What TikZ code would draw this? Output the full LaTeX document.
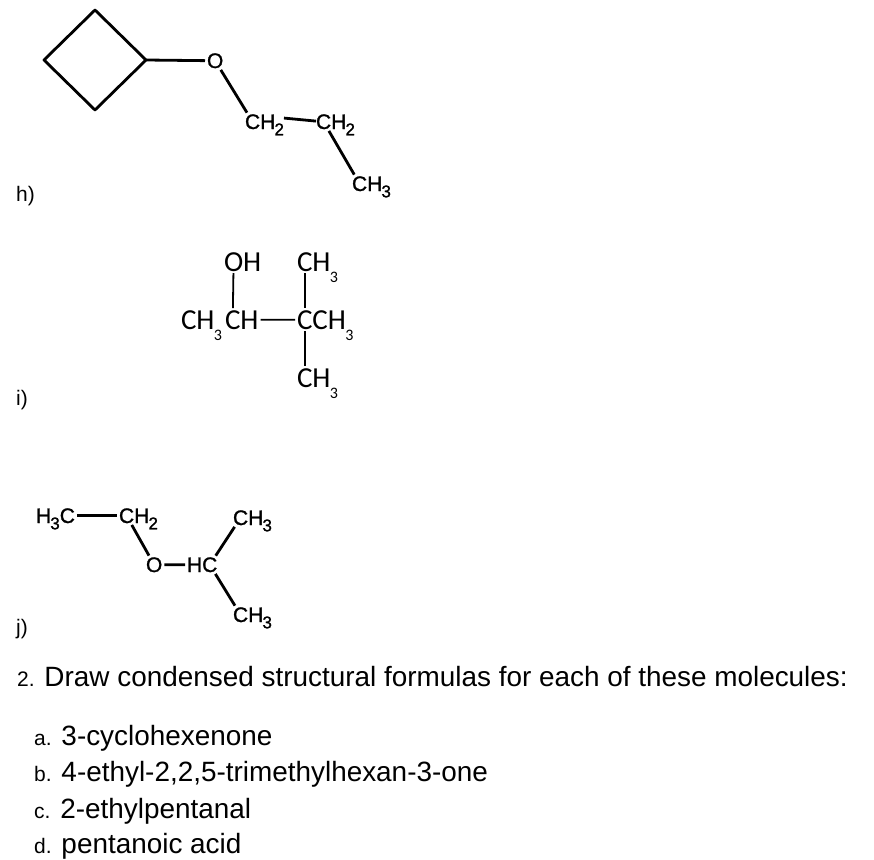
\documentclass[tikz,border=0pt]{standalone}
\usepackage{fontspec}
\setmainfont{Liberation Sans}
\newfontfamily\atomfont[RawFeature={embolden=1.2}]{Liberation Sans}
\newfontfamily\humanfont{Carlito}
\newcommand{\lowsub}[1]{\kern-0.04em\raisebox{-0.3em}{\fontsize{17}{20}\selectfont #1}}
\newcommand{\tinysub}[1]{\kern-0.02em\raisebox{-0.38em}{\fontsize{16}{18}\selectfont #1}}
\newcommand{\smallnum}[1]{{\fontsize{21}{24}\selectfont #1}\hspace{-0.02em}}
\tikzset{
    atom/.style={inner sep=0pt, outer sep=0pt, anchor=base west, font=\atomfont\fontsize{21}{24}\selectfont},
    hatom/.style={inner sep=0pt, outer sep=0pt, anchor=base west, font=\humanfont\fontsize{29}{32}\selectfont},
    bond/.style={line width=2.8pt, shorten <=2pt, shorten >=2pt},
    thinbond/.style={line width=1.8pt, shorten <=2pt, shorten >=2pt},
    tag/.style={inner sep=0pt, anchor=base west, font=\fontsize{21}{24}\selectfont},
    question/.style={inner sep=0pt, anchor=base west, font=\fontsize{27.9}{32}\selectfont}
}
\begin{document}
\begin{tikzpicture}[x=1pt, y=-1pt]
            \useasboundingbox (0,0) rectangle (874,859);

            % Define positions of the vertices in the square
            \foreach \i in {1,...,4} {
                \coordinate (v\i) at ({95 + 51*cos(90*(\i-1))}, {60 - 50*sin(90*(\i-1))});
            }
            \draw[line width=2.8pt, line join=round] (v1) -- (v2) -- (v3) -- (v4) -- cycle;

            % molecule h
            \node[atom] (ho) at (207,68) {O};
            \node[atom] (hca) at (245,129) {C};
            \node[atom] (hha) at (hca.base east) {H\lowsub{2}};
            \node[atom] (hcb) at (316,129) {C};
            \node[atom] (hhb) at (hcb.base east) {H\lowsub{2}};
            \node[atom] (hcc) at (352,191) {C};
            \node[atom] (hhc) at (hcc.base east) {H\lowsub{3}};
            \draw[bond, shorten <=0pt] (v1) -- (ho);
            \draw[bond] (ho) -- (hca);
            \draw[bond, shorten <=0pt, shorten >=0pt] (hha.30) -- (hcb.175);
            \draw[bond] (hcb) -- (hcc);
            \node[tag] (hlabel) at (16,201) {h)};

            % molecule i
            \node[hatom] (io) at (224,271) {O};
            \node[hatom] (ioh) at (io.base east) {H};
            \node[hatom] (ime) at (181,329) {CH\tinysub{3}};
            \node[hatom] (ic) at (225,329) {C};
            \node[hatom] (ich) at (ic.base east) {H};
            \node[hatom] (iq) at (297,329) {C};
            \node[hatom] (iqme) at (iq.base east) {CH\tinysub{3}};
            \node[hatom] (ita) at (297,271) {C};
            \node[hatom] (itb) at (ita.base east) {H\tinysub{3}};
            \node[hatom] (iba) at (297,387) {C};
            \node[hatom] (ibb) at (iba.base east) {H\tinysub{3}};
            \draw[thinbond] (io) -- (ic);
            \draw[thinbond] (ich) -- (iq);
            \draw[thinbond] (ita) -- (iq);
            \draw[thinbond] (iq) -- (iba);
            \node[tag] (ilabel) at (16,405) {i)};

            % molecule j
            \node[atom] (jh) at (36,523) {H\lowsub{3}};
            \node[atom] (jca) at (jh.base east) {C};
            \node[atom] (jcb) at (119,523) {C};
            \node[atom] (jhb) at (jcb.base east) {H\lowsub{2}};
            \node[atom] (jo) at (146,572) {O};
            \node[atom] (jhc) at (187,572) {H};
            \node[atom] (jc) at (jhc.base east) {C};
            \node[atom] (jma) at (233,525) {C};
            \node[atom] (jmb) at (jma.base east) {H\lowsub{3}};
            \node[atom] (jna) at (233,622) {C};
            \node[atom] (jnb) at (jna.base east) {H\lowsub{3}};
            \draw[bond] (jca) -- (jcb);
            \draw[bond] (jcb) -- (jo);
            \draw[bond] (jo) -- (jhc);
            \draw[bond] (jc) -- (jma);
            \draw[bond] (jc) -- (jna);
            \node[tag] (jlabel) at (16,634) {j)};

            % question text
            \node[question] (qmain) at (17,686) {\smallnum{2.} Draw condensed structural formulas for each of these molecules:};
            \node[question] (qa) at (34,745) {\smallnum{a.} 3-cyclohexenone};
            \node[question] (qb) at (34,781) {\smallnum{b.} 4-ethyl-2,2,5-trimethylhexan-3-one};
            \node[question] (qc) at (34,818) {\smallnum{c.} 2-ethylpentanal};
            \node[question] (qd) at (34,853) {\smallnum{d.} pentanoic acid};
        \end{tikzpicture}
\end{document}
